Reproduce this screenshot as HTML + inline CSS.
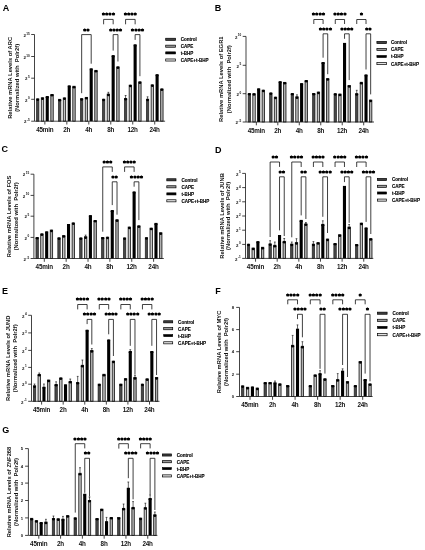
<!DOCTYPE html>
<html><head><meta charset="utf-8"><title>Figure</title>
<style>
html,body{margin:0;padding:0;background:#fff;}
body{width:425px;height:550px;overflow:hidden;}
svg{display:block;}
text{font-family:"Liberation Sans", Arial, sans-serif;fill:#000;}
.pl{font-size:9px;font-weight:bold;}
.yt{font-size:5.8px;font-weight:bold;text-anchor:middle;fill:#111;}
.tl{font-size:4.2px;font-weight:bold;fill:#111;}
.tle{font-size:4.4px;}
.sup{font-size:3.1px;}
.xl{font-size:6.3px;font-weight:bold;fill:#111;letter-spacing:-0.2px;}
.lg{font-size:4.55px;font-weight:bold;fill:#000;stroke:#000;stroke-width:0.12;}
.st{font-size:6.2px;font-weight:bold;letter-spacing:0.9px;stroke:#000;stroke-width:0.95;stroke-linejoin:round;}
.ax{fill:none;stroke:#222;stroke-width:0.85;}
.br{fill:none;stroke:#000;stroke-width:0.75;}
.eb{fill:none;stroke:#000;stroke-width:0.6;}
.b0{fill:#484848;stroke:#222;stroke-width:0.7;}
.b1{fill:#c4c4c4;stroke:#111;stroke-width:0.8;}
.b3{fill:#b0b0b0;stroke:#111;stroke-width:0.8;}
.l0{fill:#404040;stroke:#000;stroke-width:0.7;}
.l1{fill:#999;stroke:#000;stroke-width:0.7;}
.l2{fill:#000;stroke:#000;stroke-width:0.6;}
.l3{fill:#e2e2e2;stroke:#000;stroke-width:0.7;}
</style></head>
<body>
<svg width="425" height="550" viewBox="0 0 425 550">
<rect width="425" height="550" fill="#fff"/>
<text class="pl" x="2.8" y="10.9">A</text>
<text class="yt" transform="translate(12.3 77.85) rotate(-90)">Relative mRNA Levels of ARC</text>
<text class="yt" transform="translate(19.1 77.85) rotate(-90)">(Normalized with &#160;Polr2f)</text>
<rect class="b0" x="36.52" y="98.85" width="2.4" height="22.35"/>
<ellipse cx="37.71" cy="99.75" rx="1.45" ry="1.25" fill="#000"/>
<rect class="b1" x="41.29" y="97.75" width="2.4" height="23.45"/>
<ellipse cx="42.48" cy="98.65" rx="1.45" ry="1.25" fill="#000"/>
<rect x="45.7" y="96.1" width="3.1" height="25.1" fill="#000"/>
<ellipse cx="47.25" cy="97.35" rx="1.45" ry="1.25" fill="#000"/>
<rect class="b3" x="50.83" y="94.45" width="2.4" height="26.75"/>
<ellipse cx="52.02" cy="95.35" rx="1.45" ry="1.25" fill="#000"/>
<rect class="b0" x="58.49" y="99.25" width="2.4" height="21.95"/>
<ellipse cx="59.69" cy="100.15" rx="1.45" ry="1.25" fill="#000"/>
<rect class="b1" x="63.26" y="97.95" width="2.4" height="23.25"/>
<ellipse cx="64.45" cy="98.85" rx="1.45" ry="1.25" fill="#000"/>
<rect x="67.68" y="85.5" width="3.1" height="35.7" fill="#000"/>
<ellipse cx="69.23" cy="86.75" rx="1.45" ry="1.25" fill="#000"/>
<rect class="b3" x="72.8" y="86.25" width="2.4" height="34.95"/>
<ellipse cx="74" cy="87.15" rx="1.45" ry="1.25" fill="#000"/>
<rect class="b0" x="80.45" y="98.65" width="2.4" height="22.55"/>
<ellipse cx="81.66" cy="99.55" rx="1.45" ry="1.25" fill="#000"/>
<rect class="b1" x="85.22" y="97.35" width="2.4" height="23.85"/>
<ellipse cx="86.42" cy="98.25" rx="1.45" ry="1.25" fill="#000"/>
<rect x="89.65" y="68.4" width="3.1" height="52.8" fill="#000"/>
<ellipse cx="91.2" cy="69.65" rx="1.45" ry="1.25" fill="#000"/>
<rect class="b3" x="94.77" y="70.35" width="2.4" height="50.85"/>
<ellipse cx="95.97" cy="71.25" rx="1.45" ry="1.25" fill="#000"/>
<rect class="b0" x="102.42" y="99.15" width="2.4" height="22.05"/>
<ellipse cx="103.62" cy="100.05" rx="1.45" ry="1.25" fill="#000"/>
<path class="eb" d="M108.39 93.7V92.3M107.49 92.3H109.3"/>
<rect class="b1" x="107.19" y="94.05" width="2.4" height="27.15"/>
<ellipse cx="108.39" cy="94.95" rx="1.45" ry="1.25" fill="#000"/>
<rect x="111.62" y="55.2" width="3.1" height="66" fill="#000"/>
<ellipse cx="113.17" cy="56.45" rx="1.45" ry="1.25" fill="#000"/>
<rect class="b3" x="116.73" y="66.85" width="2.4" height="54.35"/>
<ellipse cx="117.94" cy="67.75" rx="1.45" ry="1.25" fill="#000"/>
<path class="eb" d="M125.59 98V95.5M124.69 95.5H126.5"/>
<rect class="b0" x="124.39" y="98.35" width="2.4" height="22.85"/>
<ellipse cx="125.59" cy="99.25" rx="1.45" ry="1.25" fill="#000"/>
<rect class="b1" x="129.16" y="85.15" width="2.4" height="36.05"/>
<ellipse cx="130.37" cy="86.05" rx="1.45" ry="1.25" fill="#000"/>
<rect x="133.58" y="44.4" width="3.1" height="76.8" fill="#000"/>
<ellipse cx="135.13" cy="45.65" rx="1.45" ry="1.25" fill="#000"/>
<rect class="b3" x="138.7" y="81.85" width="2.4" height="39.35"/>
<ellipse cx="139.91" cy="82.75" rx="1.45" ry="1.25" fill="#000"/>
<path class="eb" d="M147.56 98.8V96.8M146.66 96.8H148.47"/>
<rect class="b0" x="146.36" y="99.15" width="2.4" height="22.05"/>
<ellipse cx="147.56" cy="100.05" rx="1.45" ry="1.25" fill="#000"/>
<rect class="b1" x="151.13" y="84.85" width="2.4" height="36.35"/>
<ellipse cx="152.34" cy="85.75" rx="1.45" ry="1.25" fill="#000"/>
<rect x="155.55" y="74.3" width="3.1" height="46.9" fill="#000"/>
<ellipse cx="157.1" cy="75.55" rx="1.45" ry="1.25" fill="#000"/>
<rect class="b3" x="160.67" y="88.95" width="2.4" height="32.25"/>
<ellipse cx="161.88" cy="89.85" rx="1.45" ry="1.25" fill="#000"/>
<path class="ax" d="M34.5 34.5V121.2H165.1"/>
<path class="ax" d="M31.2 34.5H34.5"/>
<text class="tl tle" x="29.8" y="36.75" text-anchor="end">2<tspan class="sup" dx="0.5" dy="-2.2">15</tspan></text>
<path class="ax" d="M31.2 56.5H34.5"/>
<text class="tl tle" x="29.8" y="58.75" text-anchor="end">2<tspan class="sup" dx="0.5" dy="-2.2">10</tspan></text>
<path class="ax" d="M31.2 78.2H34.5"/>
<text class="tl tle" x="29.8" y="80.45" text-anchor="end">2<tspan class="sup" dx="0.5" dy="-2.2">5</tspan></text>
<path class="ax" d="M31.2 99.3H34.5"/>
<text class="tl tle" x="29.8" y="101.55" text-anchor="end">2<tspan class="sup" dx="0.5" dy="-2.2">0</tspan></text>
<path class="ax" d="M31.2 121.2H34.5"/>
<text class="tl tle" x="29.8" y="123.45" text-anchor="end">2<tspan class="sup" dx="0.5" dy="-2.2">-5</tspan></text>
<path class="ax" d="M44.87 121.2V124.5"/>
<text class="xl" x="44.77" y="131.7" text-anchor="middle">45min</text>
<path class="ax" d="M66.84 121.2V124.5"/>
<text class="xl" x="66.74" y="131.7" text-anchor="middle">2h</text>
<path class="ax" d="M88.81 121.2V124.5"/>
<text class="xl" x="88.71" y="131.7" text-anchor="middle">4h</text>
<path class="ax" d="M110.78 121.2V124.5"/>
<text class="xl" x="110.68" y="131.7" text-anchor="middle">8h</text>
<path class="ax" d="M132.75 121.2V124.5"/>
<text class="xl" x="132.65" y="131.7" text-anchor="middle">12h</text>
<path class="ax" d="M154.72 121.2V124.5"/>
<text class="xl" x="154.62" y="131.7" text-anchor="middle">24h</text>
<path class="br" d="M81.66 93.2V34.6H91.2V63.7"/>
<text class="st" x="86.88" y="32.5" text-anchor="middle">**</text>
<path class="br" d="M103.62 24.3V19.4H113.17V24.3"/>
<text class="st" x="108.85" y="17.3" text-anchor="middle">****</text>
<path class="br" d="M113.17 50.6V34.6H117.94V61.5"/>
<text class="st" x="116" y="32.5" text-anchor="middle">****</text>
<path class="br" d="M125.59 24.3V19.4H135.13V24.3"/>
<text class="st" x="130.81" y="17.3" text-anchor="middle">****</text>
<path class="br" d="M135.13 39.9V34.6H139.91V76.2"/>
<text class="st" x="137.97" y="32.5" text-anchor="middle">****</text>
<rect class="l0" x="165.7" y="38.25" width="9.9" height="2.1"/>
<text class="lg" x="180.7" y="41.2">Control</text>
<rect class="l1" x="165.7" y="45.15" width="9.9" height="2.1"/>
<text class="lg" x="180.7" y="48.1">CAPE</text>
<rect class="l2" x="165.7" y="51.85" width="9.9" height="2.1"/>
<text class="lg" x="180.7" y="54.8">t-BHP</text>
<rect class="l3" x="165.7" y="58.95" width="9.9" height="2.1"/>
<text class="lg" x="180.7" y="61.9">CAPE+t-BHP</text>
<text class="pl" x="214.7" y="10.7">B</text>
<text class="yt" transform="translate(223.4 79.2) rotate(-90)">Relative mRNA Levels of EGR1</text>
<text class="yt" transform="translate(230.5 79.2) rotate(-90)">(Normalized with &#160;Polr2f)</text>
<rect class="b0" x="248.19" y="93.35" width="2.4" height="28.65"/>
<ellipse cx="249.39" cy="94.25" rx="1.45" ry="1.25" fill="#000"/>
<rect class="b1" x="252.83" y="93.65" width="2.4" height="28.35"/>
<ellipse cx="254.03" cy="94.55" rx="1.45" ry="1.25" fill="#000"/>
<rect x="257.12" y="88.4" width="3.1" height="33.6" fill="#000"/>
<ellipse cx="258.67" cy="89.65" rx="1.45" ry="1.25" fill="#000"/>
<rect class="b3" x="262.11" y="90.15" width="2.4" height="31.85"/>
<ellipse cx="263.31" cy="91.05" rx="1.45" ry="1.25" fill="#000"/>
<rect class="b0" x="269.66" y="92.95" width="2.4" height="29.05"/>
<ellipse cx="270.86" cy="93.85" rx="1.45" ry="1.25" fill="#000"/>
<rect class="b1" x="274.3" y="97.15" width="2.4" height="24.85"/>
<ellipse cx="275.5" cy="98.05" rx="1.45" ry="1.25" fill="#000"/>
<rect x="278.59" y="81.3" width="3.1" height="40.7" fill="#000"/>
<ellipse cx="280.14" cy="82.55" rx="1.45" ry="1.25" fill="#000"/>
<rect class="b3" x="283.58" y="82.35" width="2.4" height="39.65"/>
<ellipse cx="284.78" cy="83.25" rx="1.45" ry="1.25" fill="#000"/>
<rect class="b0" x="291.13" y="93.35" width="2.4" height="28.65"/>
<ellipse cx="292.33" cy="94.25" rx="1.45" ry="1.25" fill="#000"/>
<path class="eb" d="M296.97 96.4V94.8M296.07 94.8H297.87"/>
<rect class="b1" x="295.77" y="96.75" width="2.4" height="25.25"/>
<ellipse cx="296.97" cy="97.65" rx="1.45" ry="1.25" fill="#000"/>
<rect x="300.06" y="83.2" width="3.1" height="38.8" fill="#000"/>
<ellipse cx="301.61" cy="84.45" rx="1.45" ry="1.25" fill="#000"/>
<rect class="b3" x="305.05" y="80.45" width="2.4" height="41.55"/>
<ellipse cx="306.25" cy="81.35" rx="1.45" ry="1.25" fill="#000"/>
<rect class="b0" x="312.6" y="93.35" width="2.4" height="28.65"/>
<ellipse cx="313.8" cy="94.25" rx="1.45" ry="1.25" fill="#000"/>
<rect class="b1" x="317.24" y="92.05" width="2.4" height="29.95"/>
<ellipse cx="318.44" cy="92.95" rx="1.45" ry="1.25" fill="#000"/>
<rect x="321.53" y="62" width="3.1" height="60" fill="#000"/>
<ellipse cx="323.08" cy="63.25" rx="1.45" ry="1.25" fill="#000"/>
<rect class="b3" x="326.52" y="78.65" width="2.4" height="43.35"/>
<ellipse cx="327.72" cy="79.55" rx="1.45" ry="1.25" fill="#000"/>
<rect class="b0" x="334.07" y="93.65" width="2.4" height="28.35"/>
<ellipse cx="335.27" cy="94.55" rx="1.45" ry="1.25" fill="#000"/>
<rect class="b1" x="338.71" y="94.05" width="2.4" height="27.95"/>
<ellipse cx="339.91" cy="94.95" rx="1.45" ry="1.25" fill="#000"/>
<rect x="343" y="42.9" width="3.1" height="79.1" fill="#000"/>
<ellipse cx="344.55" cy="44.15" rx="1.45" ry="1.25" fill="#000"/>
<rect class="b3" x="347.99" y="85.55" width="2.4" height="36.45"/>
<ellipse cx="349.19" cy="86.45" rx="1.45" ry="1.25" fill="#000"/>
<path class="eb" d="M356.74 93.3V90.3M355.84 90.3H357.64"/>
<rect class="b0" x="355.54" y="93.65" width="2.4" height="28.35"/>
<ellipse cx="356.74" cy="94.55" rx="1.45" ry="1.25" fill="#000"/>
<rect class="b1" x="360.18" y="82.25" width="2.4" height="39.75"/>
<ellipse cx="361.38" cy="83.15" rx="1.45" ry="1.25" fill="#000"/>
<rect x="364.47" y="74.6" width="3.1" height="47.4" fill="#000"/>
<ellipse cx="366.02" cy="75.85" rx="1.45" ry="1.25" fill="#000"/>
<rect class="b3" x="369.46" y="100.05" width="2.4" height="21.95"/>
<ellipse cx="370.66" cy="100.95" rx="1.45" ry="1.25" fill="#000"/>
<path class="ax" d="M246 36.4V122H374"/>
<path class="ax" d="M242.7 36.4H246"/>
<text class="tl tle" x="241.3" y="38.65" text-anchor="end">2<tspan class="sup" dx="0.5" dy="-2.2">10</tspan></text>
<path class="ax" d="M242.7 65.3H246"/>
<text class="tl tle" x="241.3" y="67.55" text-anchor="end">2<tspan class="sup" dx="0.5" dy="-2.2">5</tspan></text>
<path class="ax" d="M242.7 93.7H246"/>
<text class="tl tle" x="241.3" y="95.95" text-anchor="end">2<tspan class="sup" dx="0.5" dy="-2.2">0</tspan></text>
<path class="ax" d="M242.7 122H246"/>
<text class="tl tle" x="241.3" y="124.25" text-anchor="end">2<tspan class="sup" dx="0.5" dy="-2.2">-5</tspan></text>
<path class="ax" d="M256.35 122V125.3"/>
<text class="xl" x="256.25" y="132.5" text-anchor="middle">45min</text>
<path class="ax" d="M277.82 122V125.3"/>
<text class="xl" x="277.72" y="132.5" text-anchor="middle">2h</text>
<path class="ax" d="M299.29 122V125.3"/>
<text class="xl" x="299.19" y="132.5" text-anchor="middle">4h</text>
<path class="ax" d="M320.76 122V125.3"/>
<text class="xl" x="320.66" y="132.5" text-anchor="middle">8h</text>
<path class="ax" d="M342.23 122V125.3"/>
<text class="xl" x="342.13" y="132.5" text-anchor="middle">12h</text>
<path class="ax" d="M363.7 122V125.3"/>
<text class="xl" x="363.6" y="132.5" text-anchor="middle">24h</text>
<path class="br" d="M313.8 24V19.5H323.08V24"/>
<text class="st" x="318.89" y="17.4" text-anchor="middle">****</text>
<path class="br" d="M323.08 57.7V33.8H327.72V74.2"/>
<text class="st" x="325.85" y="31.7" text-anchor="middle">****</text>
<path class="br" d="M335.27 24V19.5H344.55V24"/>
<text class="st" x="340.36" y="17.4" text-anchor="middle">****</text>
<path class="br" d="M344.55 38.8V33.8H349.19V80.1"/>
<text class="st" x="347.32" y="31.7" text-anchor="middle">****</text>
<path class="br" d="M356.74 24V19.5H366.02V24"/>
<text class="st" x="361.83" y="17.4" text-anchor="middle">*</text>
<path class="br" d="M366.02 69.5V33.8H370.66V94.4"/>
<text class="st" x="368.79" y="31.7" text-anchor="middle">**</text>
<rect class="l0" x="376.9" y="41.45" width="9.5" height="2.1"/>
<text class="lg" x="391" y="44.4">Control</text>
<rect class="l1" x="376.9" y="48.35" width="9.5" height="2.1"/>
<text class="lg" x="391" y="51.3">CAPE</text>
<rect class="l2" x="376.9" y="55.45" width="9.5" height="2.1"/>
<text class="lg" x="391" y="58.4">t-BHP</text>
<rect class="l3" x="376.9" y="62.55" width="9.5" height="2.1"/>
<text class="lg" x="391" y="65.5">CAPE+t-BHP</text>
<text class="pl" x="1.4" y="152.2">C</text>
<text class="yt" transform="translate(11 216.35) rotate(-90)">Relative mRNA Levels of FOS</text>
<text class="yt" transform="translate(18.2 216.35) rotate(-90)">(Normalized with &#160;Polr2f)</text>
<rect class="b0" x="35.96" y="237.35" width="2.4" height="21.15"/>
<ellipse cx="37.16" cy="238.25" rx="1.45" ry="1.25" fill="#000"/>
<rect class="b1" x="40.72" y="233.85" width="2.4" height="24.65"/>
<ellipse cx="41.92" cy="234.75" rx="1.45" ry="1.25" fill="#000"/>
<rect x="45.13" y="231.4" width="3.1" height="27.1" fill="#000"/>
<ellipse cx="46.68" cy="232.65" rx="1.45" ry="1.25" fill="#000"/>
<rect class="b3" x="50.24" y="230.05" width="2.4" height="28.45"/>
<ellipse cx="51.44" cy="230.95" rx="1.45" ry="1.25" fill="#000"/>
<rect class="b0" x="57.82" y="237.75" width="2.4" height="20.75"/>
<ellipse cx="59.02" cy="238.65" rx="1.45" ry="1.25" fill="#000"/>
<rect class="b1" x="62.58" y="235.65" width="2.4" height="22.85"/>
<ellipse cx="63.78" cy="236.55" rx="1.45" ry="1.25" fill="#000"/>
<rect x="66.99" y="224" width="3.1" height="34.5" fill="#000"/>
<ellipse cx="68.54" cy="225.25" rx="1.45" ry="1.25" fill="#000"/>
<rect class="b3" x="72.1" y="222.95" width="2.4" height="35.55"/>
<ellipse cx="73.3" cy="223.85" rx="1.45" ry="1.25" fill="#000"/>
<rect class="b0" x="79.68" y="237.95" width="2.4" height="20.55"/>
<ellipse cx="80.88" cy="238.85" rx="1.45" ry="1.25" fill="#000"/>
<path class="eb" d="M85.64 236.4V235.1M84.74 235.1H86.54"/>
<rect class="b1" x="84.44" y="236.75" width="2.4" height="21.75"/>
<ellipse cx="85.64" cy="237.65" rx="1.45" ry="1.25" fill="#000"/>
<rect x="88.85" y="215.2" width="3.1" height="43.3" fill="#000"/>
<ellipse cx="90.4" cy="216.45" rx="1.45" ry="1.25" fill="#000"/>
<rect class="b3" x="93.96" y="220.45" width="2.4" height="38.05"/>
<ellipse cx="95.16" cy="221.35" rx="1.45" ry="1.25" fill="#000"/>
<rect class="b0" x="101.54" y="237.45" width="2.4" height="21.05"/>
<ellipse cx="102.74" cy="238.35" rx="1.45" ry="1.25" fill="#000"/>
<rect class="b1" x="106.3" y="237.15" width="2.4" height="21.35"/>
<ellipse cx="107.5" cy="238.05" rx="1.45" ry="1.25" fill="#000"/>
<rect x="110.71" y="210.1" width="3.1" height="48.4" fill="#000"/>
<ellipse cx="112.26" cy="211.35" rx="1.45" ry="1.25" fill="#000"/>
<rect class="b3" x="115.82" y="219.75" width="2.4" height="38.75"/>
<ellipse cx="117.02" cy="220.65" rx="1.45" ry="1.25" fill="#000"/>
<rect class="b0" x="123.4" y="237.95" width="2.4" height="20.55"/>
<ellipse cx="124.6" cy="238.85" rx="1.45" ry="1.25" fill="#000"/>
<rect class="b1" x="128.16" y="227.05" width="2.4" height="31.45"/>
<ellipse cx="129.36" cy="227.95" rx="1.45" ry="1.25" fill="#000"/>
<rect x="132.57" y="191.6" width="3.1" height="66.9" fill="#000"/>
<ellipse cx="134.12" cy="192.85" rx="1.45" ry="1.25" fill="#000"/>
<rect class="b3" x="137.68" y="225.85" width="2.4" height="32.65"/>
<ellipse cx="138.88" cy="226.75" rx="1.45" ry="1.25" fill="#000"/>
<rect class="b0" x="145.26" y="237.65" width="2.4" height="20.85"/>
<ellipse cx="146.46" cy="238.55" rx="1.45" ry="1.25" fill="#000"/>
<rect class="b1" x="150.02" y="228.15" width="2.4" height="30.35"/>
<ellipse cx="151.22" cy="229.05" rx="1.45" ry="1.25" fill="#000"/>
<rect x="154.43" y="222.9" width="3.1" height="35.6" fill="#000"/>
<ellipse cx="155.98" cy="224.15" rx="1.45" ry="1.25" fill="#000"/>
<rect class="b3" x="159.54" y="232.75" width="2.4" height="25.75"/>
<ellipse cx="160.74" cy="233.65" rx="1.45" ry="1.25" fill="#000"/>
<path class="ax" d="M33.9 174.2V258.5H163.8"/>
<path class="ax" d="M30.6 174.2H33.9"/>
<text class="tl tle" x="29.2" y="176.45" text-anchor="end">2<tspan class="sup" dx="0.5" dy="-2.2">15</tspan></text>
<path class="ax" d="M30.6 195.4H33.9"/>
<text class="tl tle" x="29.2" y="197.65" text-anchor="end">2<tspan class="sup" dx="0.5" dy="-2.2">10</tspan></text>
<path class="ax" d="M30.6 216.2H33.9"/>
<text class="tl tle" x="29.2" y="218.45" text-anchor="end">2<tspan class="sup" dx="0.5" dy="-2.2">5</tspan></text>
<path class="ax" d="M30.6 237.4H33.9"/>
<text class="tl tle" x="29.2" y="239.65" text-anchor="end">2<tspan class="sup" dx="0.5" dy="-2.2">0</tspan></text>
<path class="ax" d="M30.6 258.5H33.9"/>
<text class="tl tle" x="29.2" y="260.75" text-anchor="end">2<tspan class="sup" dx="0.5" dy="-2.2">-5</tspan></text>
<path class="ax" d="M44.3 258.5V261.8"/>
<text class="xl" x="44.2" y="269" text-anchor="middle">45min</text>
<path class="ax" d="M66.16 258.5V261.8"/>
<text class="xl" x="66.06" y="269" text-anchor="middle">2h</text>
<path class="ax" d="M88.02 258.5V261.8"/>
<text class="xl" x="87.92" y="269" text-anchor="middle">4h</text>
<path class="ax" d="M109.88 258.5V261.8"/>
<text class="xl" x="109.78" y="269" text-anchor="middle">8h</text>
<path class="ax" d="M131.74 258.5V261.8"/>
<text class="xl" x="131.64" y="269" text-anchor="middle">12h</text>
<path class="ax" d="M153.6 258.5V261.8"/>
<text class="xl" x="153.5" y="269" text-anchor="middle">24h</text>
<path class="br" d="M102.74 231.7V166.9H112.26V171.9"/>
<text class="st" x="107.95" y="164.8" text-anchor="middle">***</text>
<path class="br" d="M112.26 205.1V181.8H117.02V214.7"/>
<text class="st" x="115.09" y="179.7" text-anchor="middle">**</text>
<path class="br" d="M124.6 171.9V166.9H134.12V171.9"/>
<text class="st" x="129.81" y="164.8" text-anchor="middle">****</text>
<path class="br" d="M134.12 186.7V181.8H138.88V220.1"/>
<text class="st" x="136.95" y="179.7" text-anchor="middle">****</text>
<rect class="l0" x="166.8" y="178.75" width="9.2" height="2.1"/>
<text class="lg" x="181.4" y="181.7">Control</text>
<rect class="l1" x="166.8" y="185.75" width="9.2" height="2.1"/>
<text class="lg" x="181.4" y="188.7">CAPE</text>
<rect class="l2" x="166.8" y="192.85" width="9.2" height="2.1"/>
<text class="lg" x="181.4" y="195.8">t-BHP</text>
<rect class="l3" x="166.8" y="199.75" width="9.2" height="2.1"/>
<text class="lg" x="181.4" y="202.7">CAPE+t-BHP</text>
<text class="pl" x="215" y="152.5">D</text>
<text class="yt" transform="translate(223.8 215.9) rotate(-90)">Relative mRNA Levels of JUNB</text>
<text class="yt" transform="translate(230.4 215.9) rotate(-90)">(Normalized with &#160;Polr2f)</text>
<rect class="b0" x="247.3" y="244.15" width="2.4" height="14.25"/>
<ellipse cx="248.5" cy="245.05" rx="1.45" ry="1.25" fill="#000"/>
<rect class="b1" x="252" y="248.05" width="2.4" height="10.35"/>
<ellipse cx="253.2" cy="248.95" rx="1.45" ry="1.25" fill="#000"/>
<rect x="256.35" y="241.2" width="3.1" height="17.2" fill="#000"/>
<ellipse cx="257.9" cy="242.45" rx="1.45" ry="1.25" fill="#000"/>
<rect class="b3" x="261.4" y="247.25" width="2.4" height="11.15"/>
<ellipse cx="262.6" cy="248.15" rx="1.45" ry="1.25" fill="#000"/>
<path class="eb" d="M270.14 243.5V240.7M269.24 240.7H271.04"/>
<rect class="b0" x="268.94" y="243.85" width="2.4" height="14.55"/>
<ellipse cx="270.14" cy="244.75" rx="1.45" ry="1.25" fill="#000"/>
<path class="eb" d="M274.84 244.9V242M273.94 242H275.74"/>
<rect class="b1" x="273.64" y="245.25" width="2.4" height="13.15"/>
<ellipse cx="274.84" cy="246.15" rx="1.45" ry="1.25" fill="#000"/>
<rect x="277.99" y="235" width="3.1" height="23.4" fill="#000"/>
<ellipse cx="279.54" cy="236.25" rx="1.45" ry="1.25" fill="#000"/>
<path class="eb" d="M284.24 241V238.5M283.34 238.5H285.14"/>
<rect class="b3" x="283.04" y="241.35" width="2.4" height="17.05"/>
<ellipse cx="284.24" cy="242.25" rx="1.45" ry="1.25" fill="#000"/>
<path class="eb" d="M291.78 243.7V242M290.88 242H292.68"/>
<rect class="b0" x="290.58" y="244.05" width="2.4" height="14.35"/>
<ellipse cx="291.78" cy="244.95" rx="1.45" ry="1.25" fill="#000"/>
<path class="eb" d="M296.48 242.3V238.7M295.58 238.7H297.38"/>
<rect class="b1" x="295.28" y="242.65" width="2.4" height="15.75"/>
<ellipse cx="296.48" cy="243.55" rx="1.45" ry="1.25" fill="#000"/>
<rect x="299.63" y="219.9" width="3.1" height="38.5" fill="#000"/>
<ellipse cx="301.18" cy="221.15" rx="1.45" ry="1.25" fill="#000"/>
<path class="eb" d="M305.88 223.6V222.5M304.98 222.5H306.78"/>
<rect class="b3" x="304.68" y="223.95" width="2.4" height="34.45"/>
<ellipse cx="305.88" cy="224.85" rx="1.45" ry="1.25" fill="#000"/>
<path class="eb" d="M313.42 243.7V241.6M312.52 241.6H314.32"/>
<rect class="b0" x="312.22" y="244.05" width="2.4" height="14.35"/>
<ellipse cx="313.42" cy="244.95" rx="1.45" ry="1.25" fill="#000"/>
<rect class="b1" x="316.92" y="242.65" width="2.4" height="15.75"/>
<ellipse cx="318.12" cy="243.55" rx="1.45" ry="1.25" fill="#000"/>
<path class="eb" d="M322.82 223.9V220.8M321.92 220.8H323.72"/>
<rect x="321.27" y="223.9" width="3.1" height="34.5" fill="#000"/>
<ellipse cx="322.82" cy="225.15" rx="1.45" ry="1.25" fill="#000"/>
<rect class="b3" x="326.32" y="239.05" width="2.4" height="19.35"/>
<ellipse cx="327.52" cy="239.95" rx="1.45" ry="1.25" fill="#000"/>
<rect class="b0" x="333.86" y="243.35" width="2.4" height="15.05"/>
<ellipse cx="335.06" cy="244.25" rx="1.45" ry="1.25" fill="#000"/>
<rect class="b1" x="338.56" y="234.75" width="2.4" height="23.65"/>
<ellipse cx="339.76" cy="235.65" rx="1.45" ry="1.25" fill="#000"/>
<rect x="342.91" y="185.9" width="3.1" height="72.5" fill="#000"/>
<ellipse cx="344.46" cy="187.15" rx="1.45" ry="1.25" fill="#000"/>
<path class="eb" d="M349.16 226.7V224.5M348.26 224.5H350.06"/>
<rect class="b3" x="347.96" y="227.05" width="2.4" height="31.35"/>
<ellipse cx="349.16" cy="227.95" rx="1.45" ry="1.25" fill="#000"/>
<rect class="b0" x="355.5" y="244.35" width="2.4" height="14.05"/>
<ellipse cx="356.7" cy="245.25" rx="1.45" ry="1.25" fill="#000"/>
<rect class="b1" x="360.2" y="223.15" width="2.4" height="35.25"/>
<ellipse cx="361.4" cy="224.05" rx="1.45" ry="1.25" fill="#000"/>
<rect x="364.55" y="227.6" width="3.1" height="30.8" fill="#000"/>
<ellipse cx="366.1" cy="228.85" rx="1.45" ry="1.25" fill="#000"/>
<rect class="b3" x="369.6" y="238.65" width="2.4" height="19.75"/>
<ellipse cx="370.8" cy="239.55" rx="1.45" ry="1.25" fill="#000"/>
<path class="ax" d="M245.5 173.4V258.4H373.3"/>
<path class="ax" d="M242.2 173.4H245.5"/>
<text class="tl tle" x="240.8" y="175.65" text-anchor="end">2<tspan class="sup" dx="0.5" dy="-2.2">5</tspan></text>
<path class="ax" d="M242.2 187.6H245.5"/>
<text class="tl tle" x="240.8" y="189.85" text-anchor="end">2<tspan class="sup" dx="0.5" dy="-2.2">4</tspan></text>
<path class="ax" d="M242.2 201.8H245.5"/>
<text class="tl tle" x="240.8" y="204.05" text-anchor="end">2<tspan class="sup" dx="0.5" dy="-2.2">3</tspan></text>
<path class="ax" d="M242.2 216H245.5"/>
<text class="tl tle" x="240.8" y="218.25" text-anchor="end">2<tspan class="sup" dx="0.5" dy="-2.2">2</tspan></text>
<path class="ax" d="M242.2 230.2H245.5"/>
<text class="tl tle" x="240.8" y="232.45" text-anchor="end">2<tspan class="sup" dx="0.5" dy="-2.2">1</tspan></text>
<path class="ax" d="M242.2 244.4H245.5"/>
<text class="tl tle" x="240.8" y="246.65" text-anchor="end">2<tspan class="sup" dx="0.5" dy="-2.2">0</tspan></text>
<path class="ax" d="M242.2 258.4H245.5"/>
<text class="tl tle" x="240.8" y="260.65" text-anchor="end">2<tspan class="sup" dx="0.5" dy="-2.2">-1</tspan></text>
<path class="ax" d="M255.55 258.4V261.7"/>
<text class="xl" x="255.45" y="268.9" text-anchor="middle">45min</text>
<path class="ax" d="M277.19 258.4V261.7"/>
<text class="xl" x="277.09" y="268.9" text-anchor="middle">2h</text>
<path class="ax" d="M298.83 258.4V261.7"/>
<text class="xl" x="298.73" y="268.9" text-anchor="middle">4h</text>
<path class="ax" d="M320.47 258.4V261.7"/>
<text class="xl" x="320.37" y="268.9" text-anchor="middle">8h</text>
<path class="ax" d="M342.11 258.4V261.7"/>
<text class="xl" x="342.01" y="268.9" text-anchor="middle">12h</text>
<path class="ax" d="M363.75 258.4V261.7"/>
<text class="xl" x="363.65" y="268.9" text-anchor="middle">24h</text>
<path class="br" d="M270.14 237V162H279.54V166.9"/>
<text class="st" x="275.29" y="159.9" text-anchor="middle">**</text>
<path class="br" d="M279.54 230.4V176.8H284.24V236"/>
<text class="st" x="282.34" y="174.7" text-anchor="middle">**</text>
<path class="br" d="M291.78 237.3V162H301.18V167"/>
<text class="st" x="296.93" y="159.9" text-anchor="middle">****</text>
<path class="br" d="M301.18 215.4V176.8H305.88V219"/>
<text class="st" x="303.98" y="174.7" text-anchor="middle">**</text>
<path class="br" d="M313.42 167V162H322.82V167"/>
<text class="st" x="318.57" y="159.9" text-anchor="middle">****</text>
<path class="br" d="M322.82 216.8V176.8H327.52V233"/>
<text class="st" x="325.62" y="174.7" text-anchor="middle">****</text>
<path class="br" d="M335.06 167V162H344.46V167"/>
<text class="st" x="340.21" y="159.9" text-anchor="middle">****</text>
<path class="br" d="M344.46 182.1V176.8H349.16V222.8"/>
<text class="st" x="347.26" y="174.7" text-anchor="middle">****</text>
<path class="br" d="M356.7 167V162H366.1V167"/>
<text class="st" x="361.85" y="159.9" text-anchor="middle">****</text>
<path class="br" d="M366.1 221.9V176.8H370.8V234"/>
<text class="st" x="368.9" y="174.7" text-anchor="middle">****</text>
<rect class="l0" x="377.4" y="178.45" width="9.2" height="2.1"/>
<text class="lg" x="392" y="181.4">Control</text>
<rect class="l1" x="377.4" y="185.25" width="9.2" height="2.1"/>
<text class="lg" x="392" y="188.2">CAPE</text>
<rect class="l2" x="377.4" y="191.95" width="9.2" height="2.1"/>
<text class="lg" x="392" y="194.9">t-BHP</text>
<rect class="l3" x="377.4" y="199.05" width="9.2" height="2.1"/>
<text class="lg" x="392" y="202">CAPE+t-BHP</text>
<text class="pl" x="2.1" y="294">E</text>
<text class="yt" transform="translate(10.1 358.3) rotate(-90)">Relative mRNA Levels of JUND</text>
<text class="yt" transform="translate(16.6 358.3) rotate(-90)">(Normalized with &#160;Polr2f)</text>
<path class="eb" d="M34.54 385.4V384M33.64 384H35.44"/>
<rect class="b0" x="33.34" y="385.75" width="2.4" height="15.55"/>
<ellipse cx="34.54" cy="386.65" rx="1.45" ry="1.25" fill="#000"/>
<path class="eb" d="M39.25 374.1V373M38.35 373H40.15"/>
<rect class="b1" x="38.05" y="374.45" width="2.4" height="26.85"/>
<ellipse cx="39.25" cy="375.35" rx="1.45" ry="1.25" fill="#000"/>
<path class="eb" d="M43.95 386.8V384M43.05 384H44.85"/>
<rect x="42.41" y="386.8" width="3.1" height="14.5" fill="#000"/>
<ellipse cx="43.95" cy="388.05" rx="1.45" ry="1.25" fill="#000"/>
<rect class="b3" x="47.47" y="380.05" width="2.4" height="21.25"/>
<ellipse cx="48.66" cy="380.95" rx="1.45" ry="1.25" fill="#000"/>
<path class="eb" d="M56.12 384V381.8M55.22 381.8H57.02"/>
<rect class="b0" x="54.92" y="384.35" width="2.4" height="16.95"/>
<ellipse cx="56.12" cy="385.25" rx="1.45" ry="1.25" fill="#000"/>
<rect class="b1" x="59.63" y="377.95" width="2.4" height="23.35"/>
<ellipse cx="60.83" cy="378.85" rx="1.45" ry="1.25" fill="#000"/>
<rect x="63.98" y="384.4" width="3.1" height="16.9" fill="#000"/>
<ellipse cx="65.53" cy="385.65" rx="1.45" ry="1.25" fill="#000"/>
<path class="eb" d="M70.25 381.1V379M69.34 379H71.15"/>
<rect class="b3" x="69.05" y="381.45" width="2.4" height="19.85"/>
<ellipse cx="70.25" cy="382.35" rx="1.45" ry="1.25" fill="#000"/>
<path class="eb" d="M77.69 382.1V376.4M76.79 376.4H78.59"/>
<rect class="b0" x="76.49" y="382.45" width="2.4" height="18.85"/>
<ellipse cx="77.69" cy="383.35" rx="1.45" ry="1.25" fill="#000"/>
<path class="eb" d="M82.4 364.9V360M81.5 360H83.3"/>
<rect class="b1" x="81.2" y="365.25" width="2.4" height="36.05"/>
<ellipse cx="82.4" cy="366.15" rx="1.45" ry="1.25" fill="#000"/>
<rect x="85.56" y="329.8" width="3.1" height="71.5" fill="#000"/>
<ellipse cx="87.11" cy="331.05" rx="1.45" ry="1.25" fill="#000"/>
<path class="eb" d="M91.82 350.2V348.6M90.92 348.6H92.72"/>
<rect class="b3" x="90.62" y="350.55" width="2.4" height="50.75"/>
<ellipse cx="91.82" cy="351.45" rx="1.45" ry="1.25" fill="#000"/>
<rect class="b0" x="98.08" y="384.05" width="2.4" height="17.25"/>
<ellipse cx="99.28" cy="384.95" rx="1.45" ry="1.25" fill="#000"/>
<rect class="b1" x="102.78" y="374.25" width="2.4" height="27.05"/>
<ellipse cx="103.98" cy="375.15" rx="1.45" ry="1.25" fill="#000"/>
<rect x="107.15" y="339.6" width="3.1" height="61.7" fill="#000"/>
<ellipse cx="108.7" cy="340.85" rx="1.45" ry="1.25" fill="#000"/>
<rect class="b3" x="112.2" y="361.15" width="2.4" height="40.15"/>
<ellipse cx="113.41" cy="362.05" rx="1.45" ry="1.25" fill="#000"/>
<rect class="b0" x="119.65" y="384.05" width="2.4" height="17.25"/>
<ellipse cx="120.85" cy="384.95" rx="1.45" ry="1.25" fill="#000"/>
<rect class="b1" x="124.36" y="378.65" width="2.4" height="22.65"/>
<ellipse cx="125.56" cy="379.55" rx="1.45" ry="1.25" fill="#000"/>
<path class="eb" d="M130.27 351V349.7M129.37 349.7H131.17"/>
<rect x="128.72" y="351" width="3.1" height="50.3" fill="#000"/>
<ellipse cx="130.27" cy="352.25" rx="1.45" ry="1.25" fill="#000"/>
<path class="eb" d="M134.98 377.2V375.6M134.08 375.6H135.88"/>
<rect class="b3" x="133.78" y="377.55" width="2.4" height="23.75"/>
<ellipse cx="134.98" cy="378.45" rx="1.45" ry="1.25" fill="#000"/>
<rect class="b0" x="141.23" y="384.05" width="2.4" height="17.25"/>
<ellipse cx="142.44" cy="384.95" rx="1.45" ry="1.25" fill="#000"/>
<rect class="b1" x="145.94" y="378.85" width="2.4" height="22.45"/>
<ellipse cx="147.15" cy="379.75" rx="1.45" ry="1.25" fill="#000"/>
<rect x="150.3" y="351" width="3.1" height="50.3" fill="#000"/>
<ellipse cx="151.85" cy="352.25" rx="1.45" ry="1.25" fill="#000"/>
<rect class="b3" x="155.36" y="377.55" width="2.4" height="23.75"/>
<ellipse cx="156.56" cy="378.45" rx="1.45" ry="1.25" fill="#000"/>
<path class="ax" d="M31.5 315.3V401.3H159.5"/>
<path class="ax" d="M28.2 315.3H31.5"/>
<text class="tl tle" x="26.8" y="317.55" text-anchor="end">2<tspan class="sup" dx="0.5" dy="-2.2">4</tspan></text>
<path class="ax" d="M28.2 332.9H31.5"/>
<text class="tl tle" x="26.8" y="335.15" text-anchor="end">2<tspan class="sup" dx="0.5" dy="-2.2">3</tspan></text>
<path class="ax" d="M28.2 350.4H31.5"/>
<text class="tl tle" x="26.8" y="352.65" text-anchor="end">2<tspan class="sup" dx="0.5" dy="-2.2">2</tspan></text>
<path class="ax" d="M28.2 367.4H31.5"/>
<text class="tl tle" x="26.8" y="369.65" text-anchor="end">2<tspan class="sup" dx="0.5" dy="-2.2">1</tspan></text>
<path class="ax" d="M28.2 384.2H31.5"/>
<text class="tl tle" x="26.8" y="386.45" text-anchor="end">2<tspan class="sup" dx="0.5" dy="-2.2">0</tspan></text>
<path class="ax" d="M28.2 401.3H31.5"/>
<text class="tl tle" x="26.8" y="403.55" text-anchor="end">2<tspan class="sup" dx="0.5" dy="-2.2">-1</tspan></text>
<path class="ax" d="M41.6 401.3V404.6"/>
<text class="xl" x="41.5" y="411.8" text-anchor="middle">45min</text>
<path class="ax" d="M63.18 401.3V404.6"/>
<text class="xl" x="63.08" y="411.8" text-anchor="middle">2h</text>
<path class="ax" d="M84.76 401.3V404.6"/>
<text class="xl" x="84.66" y="411.8" text-anchor="middle">4h</text>
<path class="ax" d="M106.34 401.3V404.6"/>
<text class="xl" x="106.24" y="411.8" text-anchor="middle">8h</text>
<path class="ax" d="M127.92 401.3V404.6"/>
<text class="xl" x="127.82" y="411.8" text-anchor="middle">12h</text>
<path class="ax" d="M149.5 401.3V404.6"/>
<text class="xl" x="149.4" y="411.8" text-anchor="middle">24h</text>
<path class="br" d="M77.69 309.4V304.5H87.11V309.4"/>
<text class="st" x="82.86" y="302.4" text-anchor="middle">****</text>
<path class="br" d="M87.11 324.1V319.4H91.82V344.5"/>
<text class="st" x="89.92" y="317.3" text-anchor="middle">****</text>
<path class="br" d="M99.28 309.4V304.5H108.7V309.4"/>
<text class="st" x="104.44" y="302.4" text-anchor="middle">****</text>
<path class="br" d="M108.7 334.3V319.4H113.41V356"/>
<text class="st" x="111.5" y="317.3" text-anchor="middle">****</text>
<path class="br" d="M120.85 309.4V304.5H130.27V309.4"/>
<text class="st" x="126.01" y="302.4" text-anchor="middle">****</text>
<path class="br" d="M130.27 345.8V319.4H134.98V374.7"/>
<text class="st" x="133.08" y="317.3" text-anchor="middle">****</text>
<path class="br" d="M142.44 309.4V304.5H151.85V309.4"/>
<text class="st" x="147.59" y="302.4" text-anchor="middle">****</text>
<path class="br" d="M151.85 345.8V319.4H156.56V375"/>
<text class="st" x="154.66" y="317.3" text-anchor="middle">****</text>
<rect class="l0" x="163.7" y="320.75" width="9" height="2.1"/>
<text class="lg" x="178.1" y="323.7">Control</text>
<rect class="l1" x="163.7" y="327.65" width="9" height="2.1"/>
<text class="lg" x="178.1" y="330.6">CAPE</text>
<rect class="l2" x="163.7" y="334.55" width="9" height="2.1"/>
<text class="lg" x="178.1" y="337.5">t-BHP</text>
<rect class="l3" x="163.7" y="341.75" width="9" height="2.1"/>
<text class="lg" x="178.1" y="344.7">CAPE+t-BHP</text>
<text class="pl" x="215.2" y="294">F</text>
<text class="yt" transform="translate(221.4 351.95) rotate(-90)">Relative mRNA Levels of MYC</text>
<text class="yt" transform="translate(227.6 351.95) rotate(-90)">(Normalized with &#160;Polr2f)</text>
<rect class="b0" x="241.48" y="385.85" width="2.4" height="10.65"/>
<ellipse cx="242.68" cy="386.75" rx="1.45" ry="1.25" fill="#000"/>
<rect class="b1" x="246.36" y="387.25" width="2.4" height="9.25"/>
<ellipse cx="247.56" cy="388.15" rx="1.45" ry="1.25" fill="#000"/>
<rect x="250.89" y="386.6" width="3.1" height="9.9" fill="#000"/>
<ellipse cx="252.44" cy="387.85" rx="1.45" ry="1.25" fill="#000"/>
<rect class="b3" x="256.12" y="388.05" width="2.4" height="8.45"/>
<ellipse cx="257.32" cy="388.95" rx="1.45" ry="1.25" fill="#000"/>
<rect class="b0" x="264.02" y="382.45" width="2.4" height="14.05"/>
<ellipse cx="265.22" cy="383.35" rx="1.45" ry="1.25" fill="#000"/>
<rect class="b1" x="268.9" y="382.45" width="2.4" height="14.05"/>
<ellipse cx="270.1" cy="383.35" rx="1.45" ry="1.25" fill="#000"/>
<path class="eb" d="M274.98 382.4V381M274.08 381H275.88"/>
<rect x="273.43" y="382.4" width="3.1" height="14.1" fill="#000"/>
<ellipse cx="274.98" cy="383.65" rx="1.45" ry="1.25" fill="#000"/>
<rect class="b3" x="278.66" y="383.85" width="2.4" height="12.65"/>
<ellipse cx="279.86" cy="384.75" rx="1.45" ry="1.25" fill="#000"/>
<rect class="b0" x="286.56" y="385.45" width="2.4" height="11.05"/>
<ellipse cx="287.76" cy="386.35" rx="1.45" ry="1.25" fill="#000"/>
<path class="eb" d="M292.64 344.9V335.4M291.74 335.4H293.54"/>
<rect class="b1" x="291.44" y="345.25" width="2.4" height="51.25"/>
<ellipse cx="292.64" cy="346.15" rx="1.45" ry="1.25" fill="#000"/>
<path class="eb" d="M297.52 328.7V324.9M296.62 324.9H298.42"/>
<rect x="295.97" y="328.7" width="3.1" height="67.8" fill="#000"/>
<ellipse cx="297.52" cy="329.95" rx="1.45" ry="1.25" fill="#000"/>
<path class="eb" d="M302.4 345.9V341.7M301.5 341.7H303.3"/>
<rect class="b3" x="301.2" y="346.25" width="2.4" height="50.25"/>
<ellipse cx="302.4" cy="347.15" rx="1.45" ry="1.25" fill="#000"/>
<rect class="b0" x="309.1" y="385.45" width="2.4" height="11.05"/>
<ellipse cx="310.3" cy="386.35" rx="1.45" ry="1.25" fill="#000"/>
<rect class="b1" x="313.98" y="374.95" width="2.4" height="21.55"/>
<ellipse cx="315.18" cy="375.85" rx="1.45" ry="1.25" fill="#000"/>
<path class="eb" d="M320.06 373.2V370.7M319.16 370.7H320.96"/>
<rect x="318.51" y="373.2" width="3.1" height="23.3" fill="#000"/>
<ellipse cx="320.06" cy="374.45" rx="1.45" ry="1.25" fill="#000"/>
<rect class="b3" x="323.74" y="378.75" width="2.4" height="17.75"/>
<ellipse cx="324.94" cy="379.65" rx="1.45" ry="1.25" fill="#000"/>
<rect class="b0" x="331.64" y="385.45" width="2.4" height="11.05"/>
<ellipse cx="332.84" cy="386.35" rx="1.45" ry="1.25" fill="#000"/>
<path class="eb" d="M337.72 379.3V373.6M336.82 373.6H338.62"/>
<rect class="b1" x="336.52" y="379.65" width="2.4" height="16.85"/>
<ellipse cx="337.72" cy="380.55" rx="1.45" ry="1.25" fill="#000"/>
<path class="eb" d="M342.6 370.7V368.8M341.7 368.8H343.5"/>
<rect x="341.05" y="370.7" width="3.1" height="25.8" fill="#000"/>
<ellipse cx="342.6" cy="371.95" rx="1.45" ry="1.25" fill="#000"/>
<rect class="b3" x="346.28" y="381.65" width="2.4" height="14.85"/>
<ellipse cx="347.48" cy="382.55" rx="1.45" ry="1.25" fill="#000"/>
<rect class="b0" x="354.18" y="385.45" width="2.4" height="11.05"/>
<ellipse cx="355.38" cy="386.35" rx="1.45" ry="1.25" fill="#000"/>
<rect class="b1" x="359.06" y="361.55" width="2.4" height="34.95"/>
<ellipse cx="360.26" cy="362.45" rx="1.45" ry="1.25" fill="#000"/>
<rect x="363.59" y="379" width="3.1" height="17.5" fill="#000"/>
<ellipse cx="365.14" cy="380.25" rx="1.45" ry="1.25" fill="#000"/>
<rect class="b3" x="368.82" y="383.95" width="2.4" height="12.55"/>
<ellipse cx="370.02" cy="384.85" rx="1.45" ry="1.25" fill="#000"/>
<path class="ax" d="M239.5 307.4V396.5H372.6"/>
<path class="ax" d="M236.2 307.4H239.5"/>
<text class="tl" x="234.2" y="309.1" text-anchor="end">8</text>
<path class="ax" d="M236.2 329.6H239.5"/>
<text class="tl" x="234.2" y="331.3" text-anchor="end">6</text>
<path class="ax" d="M236.2 351.7H239.5"/>
<text class="tl" x="234.2" y="353.4" text-anchor="end">4</text>
<path class="ax" d="M236.2 374.2H239.5"/>
<text class="tl" x="234.2" y="375.9" text-anchor="end">2</text>
<path class="ax" d="M236.2 396.5H239.5"/>
<text class="tl" x="234.2" y="398.2" text-anchor="end">0</text>
<path class="ax" d="M250 396.5V399.8"/>
<text class="xl" x="249.9" y="407" text-anchor="middle">45min</text>
<path class="ax" d="M272.54 396.5V399.8"/>
<text class="xl" x="272.44" y="407" text-anchor="middle">2h</text>
<path class="ax" d="M295.08 396.5V399.8"/>
<text class="xl" x="294.98" y="407" text-anchor="middle">4h</text>
<path class="ax" d="M317.62 396.5V399.8"/>
<text class="xl" x="317.52" y="407" text-anchor="middle">8h</text>
<path class="ax" d="M340.16 396.5V399.8"/>
<text class="xl" x="340.06" y="407" text-anchor="middle">12h</text>
<path class="ax" d="M362.7 396.5V399.8"/>
<text class="xl" x="362.6" y="407" text-anchor="middle">24h</text>
<path class="br" d="M287.76 304.3V299.8H297.52V304.3"/>
<text class="st" x="293.09" y="297.7" text-anchor="middle">****</text>
<path class="br" d="M297.52 319.1V314.3H302.4V337.3"/>
<text class="st" x="300.41" y="312.2" text-anchor="middle">****</text>
<path class="br" d="M310.3 304.3V299.8H320.06V304.3"/>
<text class="st" x="315.63" y="297.7" text-anchor="middle">****</text>
<path class="br" d="M320.06 368.8V314.3H324.94V373.6"/>
<text class="st" x="322.95" y="312.2" text-anchor="middle">**</text>
<path class="br" d="M332.84 304.3V299.8H342.6V304.3"/>
<text class="st" x="338.17" y="297.7" text-anchor="middle">****</text>
<path class="br" d="M342.6 365V314.3H347.48V377"/>
<text class="st" x="345.49" y="312.2" text-anchor="middle">****</text>
<path class="br" d="M355.38 304.3V299.8H365.14V304.3"/>
<text class="st" x="360.71" y="297.7" text-anchor="middle">*</text>
<path class="br" d="M365.14 373.6V314.3H370.02V381.3"/>
<text class="st" x="368.03" y="312.2" text-anchor="middle">*</text>
<rect class="l0" x="377.5" y="312.15" width="9.6" height="2.1"/>
<text class="lg" x="392.6" y="315.1">Control</text>
<rect class="l1" x="377.5" y="319.25" width="9.6" height="2.1"/>
<text class="lg" x="392.6" y="322.2">CAPE</text>
<rect class="l2" x="377.5" y="326.35" width="9.6" height="2.1"/>
<text class="lg" x="392.6" y="329.3">t-BHP</text>
<rect class="l3" x="377.5" y="333.65" width="9.6" height="2.1"/>
<text class="lg" x="392.6" y="336.6">CAPE+t-BHP</text>
<text class="pl" x="2.35" y="432.9">G</text>
<text class="yt" transform="translate(10.8 492) rotate(-90)">Relative mRNA Levels of ZNF268</text>
<text class="yt" transform="translate(17.8 492) rotate(-90)">(Normalized with &#160;Polr2f)</text>
<rect class="b0" x="30.47" y="518.25" width="2.4" height="17.15"/>
<ellipse cx="31.67" cy="519.15" rx="1.45" ry="1.25" fill="#000"/>
<rect class="b1" x="35.23" y="520.65" width="2.4" height="14.75"/>
<ellipse cx="36.42" cy="521.55" rx="1.45" ry="1.25" fill="#000"/>
<rect x="39.62" y="522.1" width="3.1" height="13.3" fill="#000"/>
<ellipse cx="41.17" cy="523.35" rx="1.45" ry="1.25" fill="#000"/>
<path class="eb" d="M45.92 521.7V519.3M45.02 519.3H46.82"/>
<rect class="b3" x="44.73" y="522.05" width="2.4" height="13.35"/>
<ellipse cx="45.92" cy="522.95" rx="1.45" ry="1.25" fill="#000"/>
<path class="eb" d="M53.46 518.1V516M52.56 516H54.36"/>
<rect class="b0" x="52.27" y="518.45" width="2.4" height="16.95"/>
<ellipse cx="53.46" cy="519.35" rx="1.45" ry="1.25" fill="#000"/>
<rect class="b1" x="57.02" y="518.75" width="2.4" height="16.65"/>
<ellipse cx="58.21" cy="519.65" rx="1.45" ry="1.25" fill="#000"/>
<path class="eb" d="M62.96 518.8V516.4M62.06 516.4H63.86"/>
<rect x="61.41" y="518.8" width="3.1" height="16.6" fill="#000"/>
<ellipse cx="62.96" cy="520.05" rx="1.45" ry="1.25" fill="#000"/>
<rect class="b3" x="66.52" y="515.65" width="2.4" height="19.75"/>
<ellipse cx="67.72" cy="516.55" rx="1.45" ry="1.25" fill="#000"/>
<rect class="b0" x="74.05" y="517.75" width="2.4" height="17.65"/>
<ellipse cx="75.25" cy="518.65" rx="1.45" ry="1.25" fill="#000"/>
<path class="eb" d="M80 472.9V467.7M79.1 467.7H80.91"/>
<rect class="b1" x="78.8" y="473.25" width="2.4" height="62.15"/>
<ellipse cx="80" cy="474.15" rx="1.45" ry="1.25" fill="#000"/>
<rect x="83.2" y="493.8" width="3.1" height="41.6" fill="#000"/>
<ellipse cx="84.75" cy="495.05" rx="1.45" ry="1.25" fill="#000"/>
<path class="eb" d="M89.5 500.1V497M88.6 497H90.41"/>
<rect class="b3" x="88.3" y="500.45" width="2.4" height="34.95"/>
<ellipse cx="89.5" cy="501.35" rx="1.45" ry="1.25" fill="#000"/>
<rect class="b0" x="95.84" y="518.35" width="2.4" height="17.05"/>
<ellipse cx="97.05" cy="519.25" rx="1.45" ry="1.25" fill="#000"/>
<rect class="b1" x="100.59" y="509.15" width="2.4" height="26.25"/>
<ellipse cx="101.8" cy="510.05" rx="1.45" ry="1.25" fill="#000"/>
<path class="eb" d="M106.55 521.3V517.4M105.64 517.4H107.45"/>
<rect x="105" y="521.3" width="3.1" height="14.1" fill="#000"/>
<ellipse cx="106.55" cy="522.55" rx="1.45" ry="1.25" fill="#000"/>
<rect class="b3" x="110.09" y="517.45" width="2.4" height="17.95"/>
<ellipse cx="111.3" cy="518.35" rx="1.45" ry="1.25" fill="#000"/>
<rect class="b0" x="117.63" y="517.55" width="2.4" height="17.85"/>
<ellipse cx="118.83" cy="518.45" rx="1.45" ry="1.25" fill="#000"/>
<path class="eb" d="M123.58 508V504M122.68 504H124.48"/>
<rect class="b1" x="122.38" y="508.35" width="2.4" height="27.05"/>
<ellipse cx="123.58" cy="509.25" rx="1.45" ry="1.25" fill="#000"/>
<path class="eb" d="M128.33 487.8V482M127.43 482H129.23"/>
<rect x="126.78" y="487.8" width="3.1" height="47.6" fill="#000"/>
<ellipse cx="128.33" cy="489.05" rx="1.45" ry="1.25" fill="#000"/>
<path class="eb" d="M133.08 507V501.6M132.18 501.6H133.98"/>
<rect class="b3" x="131.88" y="507.35" width="2.4" height="28.05"/>
<ellipse cx="133.08" cy="508.25" rx="1.45" ry="1.25" fill="#000"/>
<rect class="b0" x="139.42" y="518.05" width="2.4" height="17.35"/>
<ellipse cx="140.62" cy="518.95" rx="1.45" ry="1.25" fill="#000"/>
<path class="eb" d="M145.38 507.3V503.2M144.47 503.2H146.28"/>
<rect class="b1" x="144.17" y="507.65" width="2.4" height="27.75"/>
<ellipse cx="145.38" cy="508.55" rx="1.45" ry="1.25" fill="#000"/>
<path class="eb" d="M150.12 498V494.9M149.22 494.9H151.03"/>
<rect x="148.57" y="498" width="3.1" height="37.4" fill="#000"/>
<ellipse cx="150.12" cy="499.25" rx="1.45" ry="1.25" fill="#000"/>
<path class="eb" d="M154.88 514.4V512M153.97 512H155.78"/>
<rect class="b3" x="153.67" y="514.75" width="2.4" height="20.65"/>
<ellipse cx="154.88" cy="515.65" rx="1.45" ry="1.25" fill="#000"/>
<path class="ax" d="M28.4 448.6V535.4H157.4"/>
<path class="ax" d="M25.1 448.6H28.4"/>
<text class="tl" x="23.1" y="450.3" text-anchor="end">5</text>
<path class="ax" d="M25.1 466.2H28.4"/>
<text class="tl" x="23.1" y="467.9" text-anchor="end">4</text>
<path class="ax" d="M25.1 483.1H28.4"/>
<text class="tl" x="23.1" y="484.8" text-anchor="end">3</text>
<path class="ax" d="M25.1 500.5H28.4"/>
<text class="tl" x="23.1" y="502.2" text-anchor="end">2</text>
<path class="ax" d="M25.1 517.9H28.4"/>
<text class="tl" x="23.1" y="519.6" text-anchor="end">1</text>
<path class="ax" d="M25.1 535.4H28.4"/>
<text class="tl" x="23.1" y="537.1" text-anchor="end">0</text>
<path class="ax" d="M38.8 535.4V538.7"/>
<text class="xl" x="38.7" y="545.9" text-anchor="middle">45min</text>
<path class="ax" d="M60.59 535.4V538.7"/>
<text class="xl" x="60.49" y="545.9" text-anchor="middle">2h</text>
<path class="ax" d="M82.38 535.4V538.7"/>
<text class="xl" x="82.28" y="545.9" text-anchor="middle">4h</text>
<path class="ax" d="M104.17 535.4V538.7"/>
<text class="xl" x="104.07" y="545.9" text-anchor="middle">8h</text>
<path class="ax" d="M125.96 535.4V538.7"/>
<text class="xl" x="125.86" y="545.9" text-anchor="middle">12h</text>
<path class="ax" d="M147.75 535.4V538.7"/>
<text class="xl" x="147.65" y="545.9" text-anchor="middle">24h</text>
<path class="br" d="M75.25 512.6V443.7H84.75V448.4"/>
<text class="st" x="80.45" y="441.6" text-anchor="middle">****</text>
<path class="br" d="M84.75 492.8V458.3H89.5V496.5"/>
<text class="st" x="87.58" y="456.2" text-anchor="middle">**</text>
<path class="br" d="M118.83 448.6V443.7H128.33V448.6"/>
<text class="st" x="124.03" y="441.6" text-anchor="middle">****</text>
<path class="br" d="M128.33 478.2V458.3H133.08V499.3"/>
<text class="st" x="131.16" y="456.2" text-anchor="middle">****</text>
<path class="br" d="M140.62 448.4V443.7H150.12V448.4"/>
<text class="st" x="145.82" y="441.6" text-anchor="middle">****</text>
<path class="br" d="M150.12 494.5V458.3H154.88V510"/>
<text class="st" x="152.95" y="456.2" text-anchor="middle">****</text>
<rect class="l0" x="162.4" y="453.95" width="9" height="2.1"/>
<text class="lg" x="176.7" y="456.9">Control</text>
<rect class="l1" x="162.4" y="460.65" width="9" height="2.1"/>
<text class="lg" x="176.7" y="463.6">CAPE</text>
<rect class="l2" x="162.4" y="467.55" width="9" height="2.1"/>
<text class="lg" x="176.7" y="470.5">t-BHP</text>
<rect class="l3" x="162.4" y="474.85" width="9" height="2.1"/>
<text class="lg" x="176.7" y="477.8">CAPE+t-BHP</text>
</svg>
</body></html>
